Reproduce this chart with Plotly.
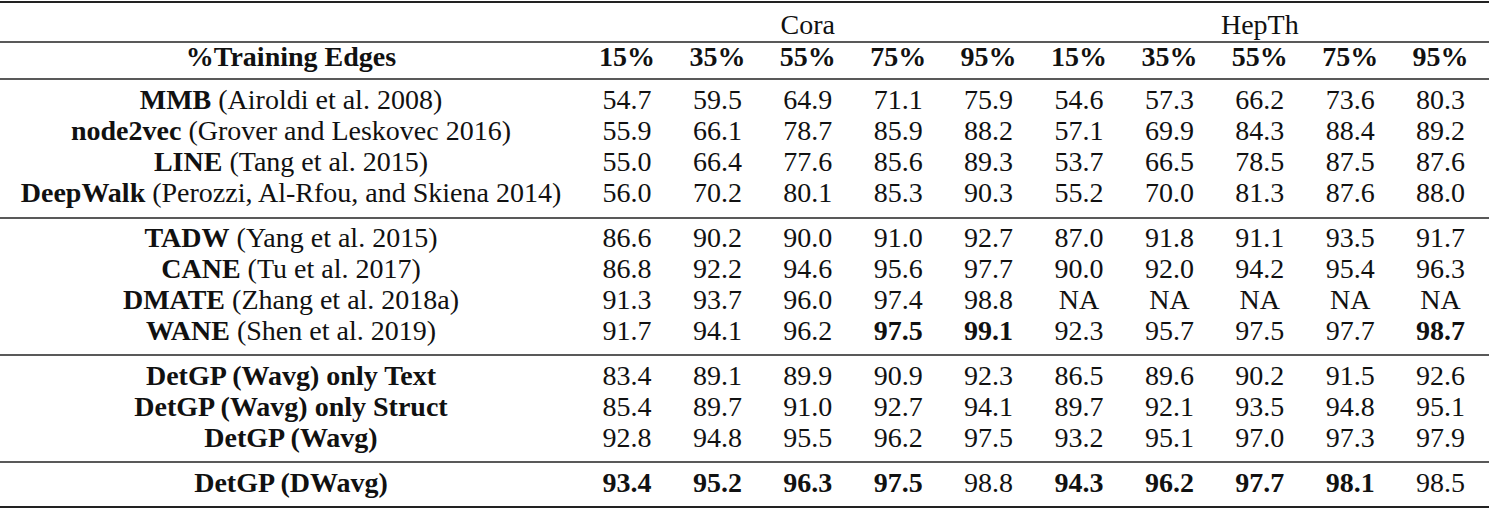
import plotly.graph_objects as go

# column headers
datasets = ["Cora", "HepTh"]
train_pct = ["15%", "35%", "55%", "75%", "95%"]

# methods: bold name + citation, grouped as in the paper
methods = [
    "MMB", "node2vec", "LINE", "DeepWalk",
    "TADW", "CANE", "DMATE", "WANE",
    "DetGP (Wavg) only Text", "DetGP (Wavg) only Struct", "DetGP (Wavg)",
    "DetGP (DWavg)",
]
citations = [
    "Airoldi et al. 2008", "Grover and Leskovec 2016", "Tang et al. 2015",
    "Perozzi, Al-Rfou, and Skiena 2014",
    "Yang et al. 2015", "Tu et al. 2017", "Zhang et al. 2018a", "Shen et al. 2019",
    None, None, None, None,
]
groups = [0, 0, 0, 0, 1, 1, 1, 1, 2, 2, 2, 3]

cora = [
    [54.7, 59.5, 64.9, 71.1, 75.9],
    [55.9, 66.1, 78.7, 85.9, 88.2],
    [55.0, 66.4, 77.6, 85.6, 89.3],
    [56.0, 70.2, 80.1, 85.3, 90.3],
    [86.6, 90.2, 90.0, 91.0, 92.7],
    [86.8, 92.2, 94.6, 95.6, 97.7],
    [91.3, 93.7, 96.0, 97.4, 98.8],
    [91.7, 94.1, 96.2, 97.5, 99.1],
    [83.4, 89.1, 89.9, 90.9, 92.3],
    [85.4, 89.7, 91.0, 92.7, 94.1],
    [92.8, 94.8, 95.5, 96.2, 97.5],
    [93.4, 95.2, 96.3, 97.5, 98.8],
]
hepth = [
    [54.6, 57.3, 66.2, 73.6, 80.3],
    [57.1, 69.9, 84.3, 88.4, 89.2],
    [53.7, 66.5, 78.5, 87.5, 87.6],
    [55.2, 70.0, 81.3, 87.6, 88.0],
    [87.0, 91.8, 91.1, 93.5, 91.7],
    [90.0, 92.0, 94.2, 95.4, 96.3],
    [None, None, None, None, None],
    [92.3, 95.7, 97.5, 97.7, 98.7],
    [86.5, 89.6, 90.2, 91.5, 92.6],
    [89.7, 92.1, 93.5, 94.8, 95.1],
    [93.2, 95.1, 97.0, 97.3, 97.9],
    [94.3, 96.2, 97.7, 98.1, 98.5],
]
# best results (row, column) shown in bold
cora_best = {(7, 3), (7, 4), (11, 0), (11, 1), (11, 2), (11, 3)}
hepth_best = {(7, 4), (11, 0), (11, 1), (11, 2), (11, 3)}

# layout in page pixels
W, H = 1489, 512
FONT = "Liberation Serif"
SIZE = 28
LABEL_X = 291
COL0, COL_STEP = 627, 90.4
ROW0, ROW_STEP, GROUP_GAP = 102, 31, 14
HEAD1_Y, HEAD2_Y = 26.5, 59


def row_y(i):
    return ROW0 + ROW_STEP * i + GROUP_GAP * groups[i]


def fmt(v, bold):
    s = "NA" if v is None else f"{v:.1f}"
    return f"<b>{s}</b>" if bold else s


fig = go.Figure()

labels = [f"<b>{m}</b>" + (f" ({c})" if c else "") for m, c in zip(methods, citations)]
fig.add_trace(go.Scatter(
    x=[LABEL_X] * len(labels), y=[row_y(i) for i in range(len(labels))],
    text=labels, mode="text", textposition="middle center",
))

xs, ys, ts = [], [], []
for d, (table, best) in enumerate([(cora, cora_best), (hepth, hepth_best)]):
    for i, row in enumerate(table):
        for j, v in enumerate(row):
            xs.append(COL0 + COL_STEP * (5 * d + j))
            ys.append(row_y(i))
            ts.append(fmt(v, (i, j) in best))
fig.add_trace(go.Scatter(x=xs, y=ys, text=ts, mode="text", textposition="middle center"))

# header rows
hx = [COL0 + COL_STEP * (5 * d + 2) for d in range(len(datasets))]
fig.add_trace(go.Scatter(x=hx, y=[HEAD1_Y] * 2, text=datasets, mode="text"))
px_ = [COL0 + COL_STEP * k for k in range(10)]
fig.add_trace(go.Scatter(
    x=[LABEL_X] + px_, y=[HEAD2_Y] * 11,
    text=["<b>%Training Edges</b>"] + [f"<b>{p}</b>" for p in train_pct * 2],
    mode="text",
))

fig.update_traces(textfont=dict(family=FONT, size=SIZE, color="#111111"),
                  hoverinfo="skip", showlegend=False)

# booktabs-style rules
for y, w in [(2, 2), (42, 1.3), (79, 1.6), (218, 1.3), (355, 1.3), (462, 1.3), (507, 2)]:
    fig.add_shape(type="line", xref="paper", yref="y", x0=0, x1=1, y0=y, y1=y,
                  line=dict(color="#222222", width=w))

fig.update_layout(
    width=W, height=H, margin=dict(l=0, r=0, t=0, b=0),
    paper_bgcolor="white", plot_bgcolor="white",
    xaxis=dict(range=[0, W], visible=False, fixedrange=True),
    yaxis=dict(range=[H, 0], visible=False, fixedrange=True),
)

fig.write_html("out.html", config={"displayModeBar": False},
               post_script="document.body.style.margin='0';")
